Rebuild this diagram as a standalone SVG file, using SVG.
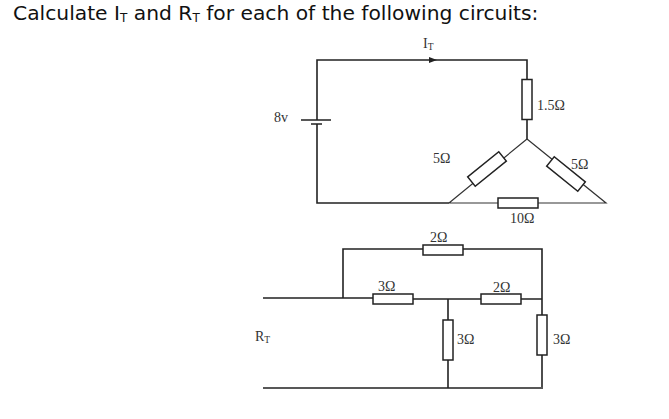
<svg xmlns="http://www.w3.org/2000/svg" width="669" height="419" viewBox="0 0 669 419">
<style>
.w{fill:none;stroke:#222;stroke-width:1.6}
.t{fill:none;stroke:#333;stroke-width:1.2}
.r{fill:#fff;stroke:#222;stroke-width:1.5}
.l{font-family:"Liberation Serif",serif;font-size:14px;fill:#333}
.s{font-size:9.500px}
.h{font-family:"DejaVu Sans",sans-serif;font-size:20.250px;fill:#111}
.hs{font-size:12px}
</style>
<defs><rect id="rv" class="r" x="-5" y="-20" width="10" height="40"/><rect id="rh" class="r" x="-20" y="-5" width="40" height="10"/><rect id="rd" class="r" x="-20" y="-6" width="40" height="12"/></defs>
<rect width="669" height="419" fill="#fff"/>
<text class="h" x="13" y="20">Calculate I<tspan class="hs" dy="2">T</tspan><tspan dy="-2"> and R</tspan><tspan class="hs" dy="2">T</tspan><tspan dy="-2"> for each of the following circuits:</tspan></text>
<g id="connectors">
<path class="w" d="M317 120V60H527V139"/>
<path class="w" d="M317 124V203H449"/>
<path class="w" d="M301 120H331M311 124H322"/>
<path class="t" d="M527 139L449 203M527 139L606 203H449"/>
<path d="M429 57L437 60L429 63Z" fill="#222"/>
<path class="w" d="M263 298H343V249H542V387M343 298H373M413 299H542M448 299V388M263 388H543"/>
</g>
<g id="battery"><text class="l" x="274" y="122">8v</text></g>
<g id="current"><text class="l" x="423" y="48">I<tspan class="s" dy="2">T</tspan></text></g>
<g id="r1"><use href="#rv" x="527" y="99.500"/><text class="l" x="537" y="110">1.5Ω</text></g>
<g id="r2"><use href="#rd" transform="translate(487 169) rotate(-39)"/><text class="l" x="433" y="163">5Ω</text></g>
<g id="r3"><use href="#rd" transform="translate(566 174) rotate(39)"/><text class="l" x="571" y="169">5Ω</text></g>
<g id="r4"><use href="#rh" x="518" y="203"/><text class="l" x="510" y="223">10Ω</text></g>
<g id="r5"><use href="#rh" x="443" y="250"/><text class="l" x="430" y="241.500">2Ω</text></g>
<g id="r6"><use href="#rh" x="393" y="299"/><text class="l" x="378" y="291">3Ω</text></g>
<g id="r7"><use href="#rh" x="501" y="299"/><text class="l" x="493" y="291.500">2Ω</text></g>
<g id="r8"><use href="#rv" x="448" y="340"/><text class="l" x="457" y="344">3Ω</text></g>
<g id="r9"><use href="#rv" x="542" y="335"/><text class="l" x="553" y="344">3Ω</text></g>
<g id="rt"><text class="l" x="255" y="341">R<tspan class="s" dy="2">T</tspan></text></g>
</svg>
